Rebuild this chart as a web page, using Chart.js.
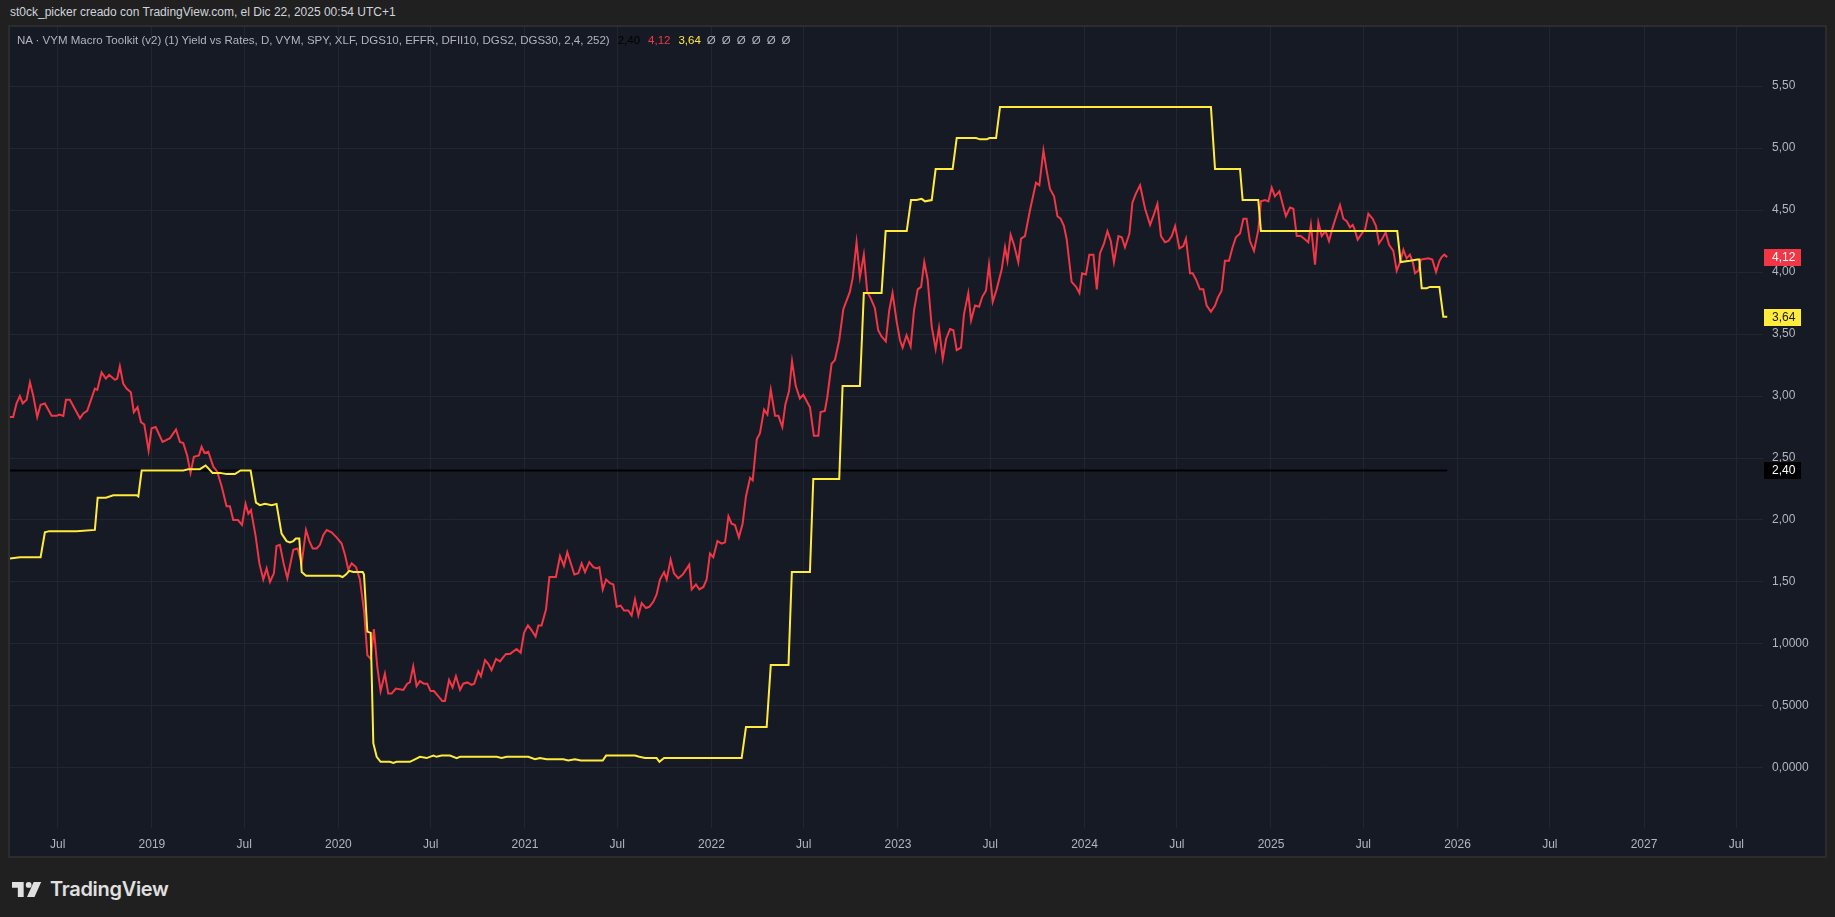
<!DOCTYPE html>
<html>
<head>
<meta charset="utf-8">
<script src="https://cdn.jsdelivr.net/npm/chart.js@4.4.1/dist/chart.umd.min.js"></script>
<style>
  html, body { margin: 0; padding: 0; width: 1835px; height: 917px; overflow: hidden; background: #202020; font-family: 'Liberation Sans', Arial, sans-serif; }
  #header { position: absolute; left: 10px; top: 5px; color: #d1d4dc; font-size: 12px; white-space: nowrap; }
  #panel { position: absolute; left: 8px; top: 25px; width: 1819px; height: 833px; box-sizing: border-box; border: 2px solid #2c2c2c; background: #161a25; }
  #chart { position: absolute; left: 10px; top: 27px; }
  #legend { position: absolute; left: 17px; top: 34px; color: #b2b5be; font-size: 11.5px; white-space: nowrap; }
  #legend span { margin-left: 8px; }
  #legend span.na { margin-left: 6px; }
  #brand { position: absolute; left: 12px; top: 877px; display: flex; align-items: center; color: #e0e0e0; font-family: Inter, 'Open Sans', sans-serif; font-weight: 600; font-size: 20px; letter-spacing: -0.3px; }
  #brand svg { margin-right: 8px; }
</style>
</head>
<body>
<div id="header">st0ck_picker creado con TradingView.com, el Dic 22, 2025 00:54 UTC+1</div>
<div id="panel"></div>
<canvas id="chart" width="1815" height="829"></canvas>
<div id="legend">NA · VYM Macro Toolkit (v2) (1) Yield vs Rates, D, VYM, SPY, XLF, DGS10, EFFR, DFII10, DGS2, DGS30, 2,4, 252)<span style="color:#000">2,40</span><span style="color:#f23645">4,12</span><span style="color:#ffeb3b">3,64</span><span class="na">Ø</span><span class="na">Ø</span><span class="na">Ø</span><span class="na">Ø</span><span class="na">Ø</span><span class="na">Ø</span></div>
<div id="brand">
  <svg width="30" height="15" viewBox="0 0 36 18"><path d="M0 0h14v18H7V7H0z" fill="#e0e0e0"/><circle cx="20" cy="3.5" r="3.5" fill="#e0e0e0"/><path d="M26 0h9l-8 18h-9z" fill="#e0e0e0"/></svg>
  TradingView
</div>
<script>
// 10Y treasury yield (red), decimal years
const dgs10Years = [
  2018.239, 2018.256, 2018.274, 2018.292, 2018.307, 2018.328, 2018.346, 2018.364, 2018.385, 2018.403,
  2018.426, 2018.462, 2018.489, 2018.503, 2018.525, 2018.539, 2018.560, 2018.614, 2018.632, 2018.653,
  2018.694, 2018.707, 2018.730, 2018.753, 2018.771, 2018.802, 2018.814, 2018.828, 2018.846, 2018.864,
  2018.887, 2018.903, 2018.923, 2018.941, 2018.959, 2018.982, 2018.998, 2019.020, 2019.057, 2019.097,
  2019.129, 2019.150, 2019.168, 2019.189, 2019.207, 2019.225, 2019.252, 2019.266, 2019.282, 2019.302,
  2019.329, 2019.350, 2019.374, 2019.400, 2019.418, 2019.436, 2019.461, 2019.483, 2019.502, 2019.517,
  2019.531, 2019.556, 2019.576, 2019.597, 2019.615, 2019.633, 2019.654, 2019.668, 2019.686, 2019.706,
  2019.726, 2019.758, 2019.781, 2019.803, 2019.826, 2019.844, 2019.862, 2019.883, 2019.901, 2019.919,
  2019.937, 2019.963, 2019.990, 2020.017, 2020.035, 2020.053, 2020.071, 2020.094, 2020.115, 2020.137,
  2020.155, 2020.173, 2020.190, 2020.208, 2020.226, 2020.249, 2020.267, 2020.285, 2020.308, 2020.348,
  2020.369, 2020.383, 2020.401, 2020.419, 2020.437, 2020.458, 2020.476, 2020.494, 2020.512, 2020.535,
  2020.557, 2020.571, 2020.593, 2020.612, 2020.630, 2020.652, 2020.669, 2020.691, 2020.714, 2020.728,
  2020.750, 2020.764, 2020.786, 2020.803, 2020.821, 2020.845, 2020.866, 2020.898, 2020.920, 2020.955,
  2020.977, 2020.995, 2021.016, 2021.036, 2021.057, 2021.072, 2021.089, 2021.113, 2021.131, 2021.166,
  2021.188, 2021.209, 2021.227, 2021.265, 2021.286, 2021.304, 2021.322, 2021.345, 2021.367, 2021.385,
  2021.399, 2021.417, 2021.435, 2021.456, 2021.474, 2021.492, 2021.513, 2021.531, 2021.554, 2021.572,
  2021.590, 2021.608, 2021.626, 2021.649, 2021.667, 2021.688, 2021.706, 2021.724, 2021.746, 2021.760,
  2021.781, 2021.799, 2021.822, 2021.846, 2021.881, 2021.894, 2021.917, 2021.935, 2021.957, 2021.974,
  2021.992, 2022.010, 2022.032, 2022.055, 2022.073, 2022.091, 2022.108, 2022.126, 2022.147, 2022.167,
  2022.185, 2022.207, 2022.221, 2022.243, 2022.260, 2022.282, 2022.300, 2022.318, 2022.341, 2022.359,
  2022.380, 2022.396, 2022.416, 2022.432, 2022.452, 2022.474, 2022.492, 2022.528, 2022.549, 2022.573,
  2022.585, 2022.608, 2022.621, 2022.644, 2022.662, 2022.685, 2022.707, 2022.742, 2022.757, 2022.778,
  2022.796, 2022.817, 2022.835, 2022.853, 2022.876, 2022.894, 2022.912, 2022.935, 2022.953, 2022.971,
  2022.993, 2023.011, 2023.025, 2023.046, 2023.068, 2023.086, 2023.106, 2023.124, 2023.141, 2023.159,
  2023.181, 2023.202, 2023.220, 2023.240, 2023.258, 2023.279, 2023.297, 2023.315, 2023.338, 2023.354,
  2023.377, 2023.392, 2023.413, 2023.435, 2023.452, 2023.472, 2023.488, 2023.508, 2023.529, 2023.556,
  2023.574, 2023.587, 2023.604, 2023.622, 2023.645, 2023.660, 2023.681, 2023.708, 2023.740, 2023.758,
  2023.780, 2023.797, 2023.815, 2023.837, 2023.855, 2023.872, 2023.890, 2023.905, 2023.931, 2023.955,
  2023.973, 2023.987, 2024.008, 2024.026, 2024.048, 2024.066, 2024.083, 2024.105, 2024.123, 2024.141,
  2024.158, 2024.182, 2024.200, 2024.217, 2024.241, 2024.257, 2024.275, 2024.298, 2024.325, 2024.352,
  2024.369, 2024.391, 2024.410, 2024.432, 2024.450, 2024.468, 2024.486, 2024.509, 2024.530, 2024.544,
  2024.566, 2024.580, 2024.598, 2024.619, 2024.637, 2024.655, 2024.678, 2024.700, 2024.714, 2024.735,
  2024.753, 2024.775, 2024.794, 2024.812, 2024.834, 2024.852, 2024.869, 2024.887, 2024.909, 2024.932,
  2024.946, 2024.968, 2024.986, 2025.004, 2025.021, 2025.045, 2025.062, 2025.080, 2025.102, 2025.120,
  2025.138, 2025.159, 2025.177, 2025.200, 2025.214, 2025.236, 2025.254, 2025.272, 2025.293, 2025.311,
  2025.331, 2025.352, 2025.370, 2025.388, 2025.406, 2025.424, 2025.438, 2025.447, 2025.465, 2025.491,
  2025.504, 2025.522, 2025.545, 2025.563, 2025.579, 2025.597, 2025.615, 2025.633, 2025.656, 2025.674,
  2025.692, 2025.710, 2025.727, 2025.745, 2025.760, 2025.772, 2025.790, 2025.804, 2025.844, 2025.865,
  2025.885, 2025.903, 2025.915, 2025.929, 2025.945
];
const dgs10Values = [
  2.83, 2.83, 2.94, 3.00, 2.94, 2.97, 3.11, 3.00, 2.83, 2.93,
  2.94, 2.84, 2.84, 2.85, 2.84, 2.97, 2.97, 2.82, 2.86, 2.88,
  3.06, 3.05, 3.19, 3.14, 3.17, 3.13, 3.14, 3.24, 3.10, 3.06,
  3.03, 2.87, 2.91, 2.79, 2.77, 2.56, 2.74, 2.75, 2.63, 2.66,
  2.73, 2.63, 2.62, 2.52, 2.38, 2.51, 2.52, 2.59, 2.54, 2.55,
  2.43, 2.39, 2.27, 2.11, 2.11, 2.00, 2.00, 1.96, 2.13, 2.05,
  2.08, 1.87, 1.65, 1.52, 1.61, 1.50, 1.57, 1.79, 1.80, 1.65,
  1.53, 1.76, 1.77, 1.65, 1.92, 1.83, 1.77, 1.77, 1.80, 1.88,
  1.92, 1.90, 1.86, 1.81, 1.72, 1.60, 1.65, 1.62, 1.52, 1.27,
  0.91, 0.88, 1.12, 0.82, 0.62, 0.76, 0.60, 0.60, 0.64, 0.63,
  0.68, 0.69, 0.82, 0.66, 0.70, 0.68, 0.68, 0.62, 0.62, 0.58,
  0.54, 0.54, 0.71, 0.65, 0.74, 0.63, 0.68, 0.69, 0.67, 0.68,
  0.78, 0.74, 0.87, 0.84, 0.79, 0.88, 0.86, 0.92, 0.92, 0.96,
  0.93, 1.09, 1.15, 1.11, 1.06, 1.15, 1.15, 1.28, 1.54, 1.54,
  1.71, 1.63, 1.74, 1.56, 1.57, 1.65, 1.58, 1.66, 1.62, 1.61,
  1.62, 1.44, 1.52, 1.49, 1.48, 1.30, 1.31, 1.27, 1.27, 1.23,
  1.36, 1.23, 1.33, 1.29, 1.30, 1.34, 1.40, 1.52, 1.58, 1.52,
  1.68, 1.57, 1.53, 1.56, 1.64, 1.44, 1.48, 1.44, 1.46, 1.52,
  1.73, 1.70, 1.83, 1.81, 1.82, 2.03, 1.97, 1.96, 1.86, 1.97,
  2.19, 2.34, 2.32, 2.65, 2.70, 2.89, 2.85, 3.05, 2.84, 2.84,
  2.75, 2.93, 3.04, 3.28, 3.08, 2.98, 3.01, 2.91, 2.68, 2.68,
  2.87, 2.88, 2.99, 3.26, 3.29, 3.45, 3.70, 3.84, 3.95, 4.24,
  3.96, 4.14, 3.84, 3.79, 3.71, 3.53, 3.48, 3.44, 3.69, 3.83,
  3.60, 3.45, 3.39, 3.49, 3.40, 3.69, 3.86, 3.88, 4.08, 3.94,
  3.56, 3.38, 3.55, 3.30, 3.46, 3.54, 3.53, 3.37, 3.39, 3.66,
  3.83, 3.61, 3.73, 3.72, 3.80, 3.85, 4.06, 3.76, 3.86, 4.02,
  4.20, 4.09, 4.30, 4.22, 4.08, 4.27, 4.29, 4.50, 4.72, 4.70,
  4.98, 4.82, 4.67, 4.61, 4.45, 4.43, 4.37, 4.26, 3.92, 3.88,
  3.83, 3.99, 3.98, 4.14, 4.14, 3.86, 4.15, 4.23, 4.33, 4.25,
  4.08, 4.29, 4.28, 4.20, 4.31, 4.56, 4.63, 4.70, 4.51, 4.38,
  4.45, 4.55, 4.29, 4.24, 4.25, 4.29, 4.37, 4.19, 4.21, 4.27,
  3.99, 3.99, 3.94, 3.86, 3.86, 3.73, 3.68, 3.73, 3.79, 3.85,
  4.09, 4.09, 4.20, 4.28, 4.31, 4.43, 4.43, 4.25, 4.17, 4.34,
  4.57, 4.58, 4.57, 4.68, 4.61, 4.65, 4.55, 4.45, 4.52, 4.51,
  4.29, 4.29, 4.27, 4.24, 4.38, 4.06, 4.40, 4.29, 4.33, 4.25,
  4.36, 4.46, 4.54, 4.43, 4.41, 4.36, 4.38, 4.35, 4.26, 4.32,
  4.34, 4.47, 4.43, 4.37, 4.23, 4.27, 4.32, 4.22, 4.17, 4.01,
  4.08, 4.18, 4.11, 4.14, 4.08, 3.99, 4.01, 4.10, 4.11, 4.10,
  4.00, 4.09, 4.12, 4.14, 4.12
];

// Effective fed funds rate (yellow)
const effrYears = [
  2018.239, 2018.292, 2018.403, 2018.426, 2018.449, 2018.578, 2018.596, 2018.694, 2018.709, 2018.753,
  2018.793, 2018.918, 2018.927, 2018.945, 2019.168, 2019.195, 2019.257, 2019.288, 2019.325, 2019.365,
  2019.400, 2019.445, 2019.475, 2019.499, 2019.529, 2019.558, 2019.579, 2019.606, 2019.642, 2019.668,
  2019.695, 2019.722, 2019.740, 2019.758, 2019.772, 2019.790, 2019.803, 2019.826, 2020.005, 2020.022,
  2020.040, 2020.058, 2020.080, 2020.106, 2020.130, 2020.137, 2020.155, 2020.173, 2020.187, 2020.205,
  2020.226, 2020.276, 2020.294, 2020.312, 2020.383, 2020.410, 2020.437, 2020.473, 2020.509, 2020.526,
  2020.553, 2020.598, 2020.634, 2020.652, 2020.848, 2020.875, 2020.902, 2021.018, 2021.054, 2021.080,
  2021.116, 2021.206, 2021.232, 2021.268, 2021.299, 2021.417, 2021.435, 2021.590, 2021.613, 2021.644,
  2021.706, 2021.721, 2021.746, 2022.162, 2022.185, 2022.296, 2022.318, 2022.413, 2022.431, 2022.528,
  2022.546, 2022.685, 2022.703, 2022.796, 2022.817, 2022.912, 2022.934, 2023.047, 2023.070, 2023.100,
  2023.127, 2023.145, 2023.181, 2023.202, 2023.293, 2023.315, 2023.419, 2023.440, 2023.476, 2023.490,
  2023.526, 2023.547, 2024.678, 2024.700, 2024.834, 2024.848, 2024.932, 2024.946, 2025.677, 2025.695,
  2025.745, 2025.785, 2025.795, 2025.808, 2025.835, 2025.852, 2025.903, 2025.924, 2025.945
];
const effrValues = [
  1.69, 1.70, 1.70, 1.90, 1.91, 1.91, 1.91, 1.92, 2.18, 2.18,
  2.20, 2.20, 2.19, 2.40, 2.40, 2.41, 2.41, 2.44, 2.38, 2.38,
  2.37, 2.37, 2.40, 2.40, 2.40, 2.14, 2.12, 2.13, 2.12, 2.13,
  1.89, 1.83, 1.82, 1.83, 1.85, 1.85, 1.58, 1.55, 1.55, 1.54,
  1.56, 1.59, 1.58, 1.58, 1.58, 1.56, 1.10, 1.09, 0.20, 0.09,
  0.05, 0.05, 0.04, 0.05, 0.05, 0.07, 0.09, 0.08, 0.10, 0.09,
  0.10, 0.10, 0.08, 0.09, 0.09, 0.08, 0.09, 0.09, 0.07, 0.08,
  0.07, 0.07, 0.06, 0.07, 0.06, 0.06, 0.10, 0.10, 0.09, 0.08,
  0.08, 0.05, 0.08, 0.08, 0.33, 0.33, 0.83, 0.83, 1.58, 1.58,
  2.33, 2.33, 3.08, 3.08, 3.83, 3.83, 4.33, 4.33, 4.58, 4.58,
  4.59, 4.57, 4.58, 4.83, 4.83, 5.08, 5.08, 5.07, 5.07, 5.08,
  5.08, 5.33, 5.33, 4.83, 4.83, 4.58, 4.58, 4.33, 4.33, 4.08,
  4.09, 4.10, 4.10, 3.87, 3.87, 3.88, 3.88, 3.64, 3.64
];

// horizontal reference line
const hlineYears = [2018.239, 2025.945];
const hlineValues = [2.40, 2.40];

const yTickValues = [0, 0.5, 1, 1.5, 2, 2.5, 3, 3.5, 4, 4.5, 5, 5.5];
const xTickYears = [2018, 2019, 2020, 2021, 2022, 2023, 2024, 2025, 2026, 2027];

const axisColor = '#b2b5be';
const gridColor = '#222631';
const fontFamily = "'Liberation Sans', Arial, sans-serif";

function toPoints(xs, ys) {
  return xs.map((x, i) => ({ x: x, y: ys[i] }));
}

let xTicks = [];
xTickYears.forEach(y => {
  if (y > 2018) xTicks.push(y);
  xTicks.push(y + 0.495);
});

function fmtPrice(v) {
  return (v < 1.25 ? v.toFixed(4) : v.toFixed(2)).replace('.', ',');
}

// last value labels drawn on the price axis
const lastValueBadges = {
  id: 'lastValueBadges',
  afterDatasetsDraw(chart) {
    const c = chart.ctx;
    const yScale = chart.scales.y;
    const left = chart.chartArea.right + 1;
    chart.data.datasets.forEach(ds => {
      const last = ds.data[ds.data.length - 1].y;
      const py = Math.round(yScale.getPixelForValue(last));
      c.save();
      c.fillStyle = ds.borderColor;
      c.fillRect(left, py - 8, 37, 17);
      c.fillStyle = ds.badgeText;
      c.font = '12px ' + fontFamily;
      c.textBaseline = 'middle';
      c.textAlign = 'left';
      c.fillText(fmtPrice(last), left + 8, py + 1);
      c.restore();
    });
  }
};

const ctx = document.getElementById('chart');
new Chart(ctx, {
  type: 'line',
  data: {
    datasets: [
      { label: 'EFFR', data: toPoints(effrYears, effrValues), borderColor: '#ffeb3b', badgeText: '#131722', borderWidth: 2, pointRadius: 0, tension: 0, order: 0 },
      { label: 'DGS10', data: toPoints(dgs10Years, dgs10Values), borderColor: '#f23645', badgeText: '#ffffff', borderWidth: 2, pointRadius: 0, tension: 0, order: 1 },
      { label: '2,40', data: toPoints(hlineYears, hlineValues), borderColor: '#000000', badgeText: '#ffffff', borderWidth: 2, pointRadius: 0, tension: 0, order: 2 }
    ]
  },
  options: {
    responsive: false,
    animation: false,
    events: [],
    layout: { padding: 0 },
    plugins: { legend: { display: false }, tooltip: { enabled: false } },
    scales: {
      x: {
        type: 'linear',
        min: 2018.239,
        max: 2027.638,
        grid: { color: gridColor, drawTicks: false },
        border: { display: false },
        ticks: {
          color: axisColor,
          font: { family: fontFamily, size: 12 },
          padding: 9,
          maxRotation: 0,
          autoSkip: false,
          callback: v => Number.isInteger(v) ? String(v) : 'Jul'
        },
        afterBuildTicks: s => { s.ticks = xTicks.map(v => ({ value: v })); },
        afterFit: s => { s.height = 28; s.paddingLeft = 0; s.paddingRight = 0; }
      },
      y: {
        position: 'right',
        min: -0.484,
        max: 5.976,
        grid: { color: gridColor, drawTicks: false },
        border: { display: false },
        ticks: {
          color: axisColor,
          font: { family: fontFamily, size: 12 },
          padding: 9,
          callback: v => fmtPrice(v)
        },
        afterBuildTicks: s => { s.ticks = yTickValues.map(v => ({ value: v })); },
        afterFit: s => { s.width = 62; s.paddingTop = 0; s.paddingBottom = 0; }
      }
    }
  },
  plugins: [lastValueBadges]
});
</script>
</body>
</html>
